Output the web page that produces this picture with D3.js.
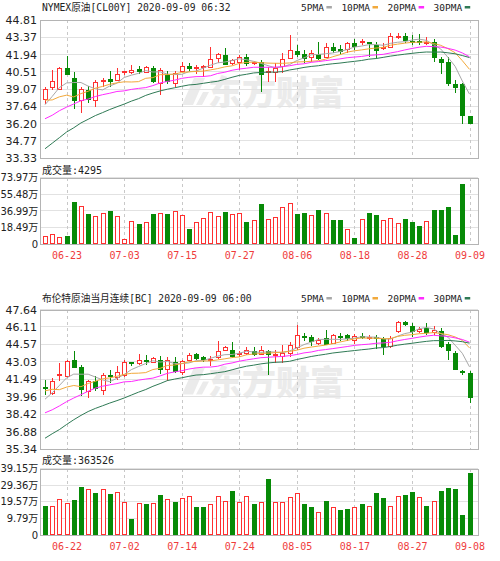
<!DOCTYPE html>
<html><head><meta charset="utf-8">
<script src="https://cdn.jsdelivr.net/npm/d3@7"></script>
<style>body{margin:0;background:#fff}svg{display:block}</style>
</head><body>
<svg id="c" width="500" height="561"></svg>
<script>
// ---------------- DATA: NYMEX crude (CL00Y) ----------------
const nymexDates = ["06-18","06-19","06-22","06-23","06-24","06-25","06-26","06-29","06-30","07-01","07-02","07-03","07-06","07-07","07-08","07-09","07-10","07-13","07-14","07-15","07-16","07-17","07-20","07-21","07-22","07-23","07-24","07-27","07-28","07-29","07-30","07-31","08-03","08-04","08-05","08-06","08-07","08-10","08-11","08-12","08-13","08-14","08-17","08-18","08-19","08-20","08-21","08-24","08-25","08-26","08-27","08-28","08-31","09-01","09-02","09-03","09-04","09-07","09-08","09-09"];
const nymexOpen  = [38.2,39.2,39.1,40.8,40.0,38.15,38.98,38.15,39.75,39.9,39.8,40.5,40.45,40.7,40.5,40.85,39.6,40.2,39.6,40.6,41.0,40.85,40.9,40.93,41.62,41.9,41.2,41.35,41.7,41.2,41.34,40.5,40.5,41.0,41.62,42.25,42.0,41.7,42.0,41.7,42.55,42.4,42.37,42.9,42.95,42.95,42.73,42.55,42.54,43.45,43.45,43.1,43.05,42.95,43.0,41.6,41.35,39.5,39.5,36.8];
const nymexHigh  = [39.2,40.65,40.9,41.8,40.5,39.2,39.3,39.8,40.0,40.6,40.8,40.6,41.07,40.95,41.0,41.0,40.8,40.6,40.6,41.35,41.25,41.1,41.1,42.54,42.1,42.45,41.54,41.9,42.0,41.4,41.48,40.93,41.2,42.1,43.56,42.73,42.31,42.31,43.0,42.87,42.92,42.73,43.0,43.2,43.2,43.0,43.0,42.87,43.7,43.76,43.7,43.56,43.65,43.42,43.2,41.76,41.76,39.82,39.6,36.85];
const nymexLow   = [37.8,39.0,39.0,40.2,37.4,37.1,37.87,37.54,39.2,39.2,39.7,40.2,40.3,40.3,40.43,39.55,38.57,39.5,39.2,40.5,40.6,40.3,40.05,40.87,41.2,41.07,41.07,40.65,40.95,41.1,38.85,39.68,39.68,40.43,41.54,41.76,41.2,41.34,41.48,41.62,42.04,41.9,42.04,42.31,42.73,41.76,41.62,42.31,42.45,43.2,42.92,42.73,42.73,42.73,41.34,40.32,39.32,38.76,36.15,36.15];
const nymexClose = [39.1,39.7,40.8,40.3,38.15,39.1,38.2,39.68,39.85,39.75,40.3,40.55,40.65,40.6,40.9,39.7,40.65,39.7,40.4,41.0,40.8,40.9,40.95,41.6,41.98,41.15,41.5,41.7,41.2,41.3,40.32,40.55,40.8,41.54,42.31,42.0,41.65,42.1,41.65,42.6,42.35,42.25,42.92,42.65,43.05,42.9,42.31,42.6,43.48,43.5,43.15,43.0,42.95,43.0,41.7,41.35,39.54,39.2,36.9,36.25];
// closes before the first visible day (feed the moving averages)
const nymexPrevClose = [25.9,26.9,26.2,27.6,27.0,29.1,30.4,32.5,31.96,33.49,33.92,33.25,34.35,32.81,33.71,35.49,35.44,36.81,37.29,37.41,39.55,38.19,38.94,39.60,36.34,36.26,37.12,38.38,37.96];
// volume, in 万
const nymexVolume = [8.8,11.7,8.1,8.8,46.5,42.5,33.0,30.8,34.4,37.4,30.8,6.2,25.6,22.0,24.5,33.0,34.8,33.0,37.4,31.9,17.2,24.5,29.3,36.3,30.8,36.3,33.0,35.2,24.5,26.4,44.7,27.5,30.0,41.0,45.8,33.0,34.8,31.9,38.1,34.8,26.4,26.4,17.2,7.3,27.5,34.8,31.9,26.4,29.3,23.4,28.2,24.5,20.1,25.6,38.1,38.1,41.0,10.6,66.6,0.4295];
const nymexPriceTicks = [33.33,34.77,36.20,37.64,39.07,40.51,41.94,43.37,44.81];
const nymexVolTicks = [0,18.49,36.99,55.48,73.97];
const nymexDateLabels = ["06-23","07-03","07-15","07-27","08-06","08-18","08-28","09-09"];
const nymexTitle = "NYMEX原油[CL00Y] 2020-09-09 06:32";
const nymexVolTitle = "成交量:4295";

// ---------------- DATA: Brent (BC) ----------------
const brentDates = ["06-17","06-18","06-19","06-22","06-23","06-24","06-25","06-26","06-29","06-30","07-01","07-02","07-03","07-06","07-07","07-08","07-09","07-10","07-13","07-14","07-15","07-16","07-17","07-20","07-21","07-22","07-23","07-24","07-27","07-28","07-29","07-30","07-31","08-03","08-04","08-05","08-06","08-07","08-10","08-11","08-12","08-13","08-14","08-17","08-18","08-19","08-20","08-21","08-24","08-25","08-26","08-27","08-28","08-31","09-01","09-02","09-03","09-04","09-07","09-08"];
const brentOpen  = [40.8,40.28,41.84,41.75,43.2,42.6,40.48,41.37,40.57,41.9,41.66,41.9,42.97,42.93,43.15,43.02,43.22,42.43,43.0,42.13,43.22,43.7,43.45,43.2,43.43,44.11,44.1,43.78,43.8,44.0,43.72,44.0,43.72,43.52,43.81,44.31,45.3,45.2,44.7,45.14,44.7,45.3,45.35,44.99,45.3,45.2,45.18,45.08,44.4,45.73,46.5,46.17,45.75,46.0,45.67,45.73,44.6,43.81,42.2,42.0];
const brentHigh  = [41.45,41.6,42.93,43.22,43.96,42.78,41.46,41.75,42.04,42.34,42.63,43.22,43.02,43.72,43.6,43.43,43.52,43.43,43.43,43.22,43.81,43.81,43.52,43.52,44.9,44.4,44.78,44.02,44.31,44.31,44.4,44.11,44.11,44.49,44.78,46.31,45.58,45.43,45.14,45.87,45.49,45.58,45.49,45.49,45.58,45.43,45.43,45.2,45.29,46.6,46.67,46.46,46.08,46.46,46.17,46.02,44.78,43.96,42.34,42.19];
const brentLow   = [40.13,40.13,41.37,41.6,42.48,39.98,39.84,40.43,40.13,41.15,41.46,41.66,42.63,42.78,42.78,42.93,41.96,41.37,42.04,41.9,43.08,43.22,43.02,42.63,43.31,43.96,43.37,43.43,43.66,43.52,43.6,41.9,42.93,42.93,43.43,44.11,44.9,44.4,44.55,44.55,44.61,44.9,44.9,44.61,45.0,44.99,44.2,43.66,44.25,45.58,46.17,45.2,45.58,45.43,45.43,44.25,43.22,42.34,41.84,39.4];
const brentClose = [40.7,41.37,41.96,43.08,42.6,40.66,41.37,40.72,41.84,41.8,42.13,43.02,42.9,43.22,43.1,43.37,42.43,43.22,42.25,43.08,43.66,43.4,43.3,43.25,44.02,44.31,43.5,43.84,44.1,43.75,44.1,43.75,43.75,43.81,44.55,45.37,45.25,44.84,44.99,44.61,45.37,45.2,45.1,45.28,45.25,45.25,45.12,44.4,45.14,46.52,46.4,45.73,45.95,45.67,45.87,44.4,44.1,42.43,42.1,39.9];
const brentPrevClose = [29.46,30.97,29.63,29.98,29.19,31.13,32.50,34.81,34.65,35.75,36.06,35.13,35.53,36.17,34.74,35.29,35.33,38.32,39.57,39.79,39.99,42.30,40.80,41.18,41.73,38.55,38.73,39.72,40.96];
const brentVolume = [17.2,17.2,21.1,18.6,20.6,28.0,26.8,24.9,26.8,24.1,25.3,19.6,9.4,18.6,18.0,18.6,23.5,21.3,19.6,21.7,22.9,16.6,16.2,18.0,22.9,20.2,25.8,19.2,22.9,18.0,19.6,32.7,19.6,19.6,22.1,24.5,18.0,16.6,13.3,20.2,16.2,14.7,15.1,16.2,18.0,17.2,24.9,21.9,17.2,22.9,23.5,25.4,22.1,17.2,20.2,25.8,27.4,27.0,11.7,36.3526];
const brentPriceTicks = [35.34,36.88,38.42,39.96,41.49,43.03,44.57,46.11,47.64];
const brentVolTicks = [0,9.79,19.57,29.36,39.15];
const brentDateLabels = ["06-22","07-02","07-14","07-24","08-05","08-17","08-27","09-08"];
const brentTitle = "布伦特原油当月连续[BC] 2020-09-09 06:00";
const brentVolTitle = "成交量:363526";

const maPeriods = [5,10,20,30];
const maNames = ["5PMA","10PMA","20PMA","30PMA"];
const maColors = ["#a8a8a8","#f2a93b","#ff2bff","#2f7a55"];

// ---------------- DRAW ----------------
const RED = "#ff3030", GREEN = "#078a07";
const MONO = "'DejaVu Sans Mono','Noto Sans CJK SC',monospace";
const svg = d3.select("#c");
const X0 = 40, X1 = 478;

function movingAvg(prev, closes, n) {
  const all = prev.concat(closes), off = prev.length;
  return closes.map((c, i) => d3.mean(all.slice(off + i - n + 1, off + i + 1)));
}

function drawPanel(p, L) {
  const g = svg.append("g");
  const x = d3.scalePoint().domain(p.dates).range([45, 469.5]);
  const y = d3.scaleLinear().domain(d3.extent(p.priceTicks)).range([L.pBot, L.pTop]);
  const vy = d3.scaleLinear().domain(d3.extent(p.volTicks)).range([L.vBot, L.vTop]);

  // watermark
  const wy = L.pTop + 85;
  g.append("path").attr("d", `M182,${wy} L194,${wy-27} L205,${wy-27} L193,${wy} Z M196,${wy} L203,${wy-13} L209,${wy-13} L202,${wy} Z`).attr("fill", "#ebebeb");
  g.append("text").attr("x", 208).attr("y", wy).attr("font-family", "'Noto Sans CJK SC'").attr("font-weight", "900")
    .attr("font-size", 34).attr("fill", "#ebebeb").text("东方财富");

  // grids
  const grid = g.append("g").attr("shape-rendering", "crispEdges");
  p.priceTicks.forEach(t => grid.append("line").attr("x1", X0).attr("x2", X1).attr("y1", y(t)).attr("y2", y(t)).attr("stroke", "#e2e2e2"));
  p.volTicks.forEach(t => grid.append("line").attr("x1", X0).attr("x2", X1).attr("y1", vy(t)).attr("y2", vy(t)).attr("stroke", "#e2e2e2"));
  p.dateLabels.forEach(d => {
    const xx = Math.round(x(d)) + 0.5;
    grid.append("line").attr("x1", xx).attr("x2", xx).attr("y1", L.pTop).attr("y2", L.pBot).attr("stroke", "#c8c8c8").attr("stroke-dasharray", "3,3");
    grid.append("line").attr("x1", xx).attr("x2", xx).attr("y1", L.vTop).attr("y2", L.vBot).attr("stroke", "#c8c8c8").attr("stroke-dasharray", "3,3");
  });
  // frames
  [[L.pTop, L.pBot], [L.vTop, L.vBot]].forEach(([a, b]) => {
    grid.append("rect").attr("x", X0 + 0.5).attr("y", Math.round(a) + 0.5).attr("width", X1 - X0).attr("height", Math.round(b) - Math.round(a))
      .attr("fill", "none").attr("stroke", "#b4b4b4");
  });

  // axis labels
  const axY = d3.axisLeft(y).tickValues(p.priceTicks).tickSize(0).tickPadding(3).tickFormat(d3.format(".2f"));
  g.append("g").attr("transform", `translate(${X0},0)`).call(axY).call(s => {
    s.select(".domain").remove();
    s.selectAll("text").attr("font-family", "'DejaVu Sans'").attr("font-size", 11).attr("fill", "#222");
  });
  const axV = d3.axisLeft(vy).tickValues(p.volTicks).tickSize(0).tickPadding(2).tickFormat(d => d === 0 ? "0" : d3.format(".2f")(d) + "万");
  g.append("g").attr("transform", `translate(${X0},0)`).call(axV).call(s => {
    s.select(".domain").remove();
    s.selectAll("text").attr("font-family", "'DejaVu Sans','Noto Sans CJK SC'").attr("font-size", 10).attr("letter-spacing", "-0.2").attr("fill", "#222");
  });
  const axX = d3.axisBottom(x).tickValues(p.dateLabels).tickSize(0).tickPadding(0);
  g.append("g").attr("transform", `translate(0,${L.dateY})`).call(axX).call(s => {
    s.select(".domain").remove();
    s.selectAll("text").attr("font-family", MONO).attr("font-size", 10).attr("fill", "#ef3b3b").attr("dy", "0");
  });

  const data = p.dates.map((d, i) => ({ d, o: p.open[i], h: p.high[i], l: p.low[i], c: p.close[i], v: p.volume[i] }));

  // volume bars
  const vb = g.append("g").attr("shape-rendering", "crispEdges");
  vb.selectAll("rect").data(data).join("rect")
    .attr("x", d => Math.round(x(d.d)) - 2 + 0.5)
    .attr("width", 4)
    .attr("y", d => Math.round(vy(d.v)) + 0.5)
    .attr("height", d => Math.max(0, Math.round(vy(0)) - Math.round(vy(d.v)) - 1))
    .attr("fill", d => d.c >= d.o ? "#fff" : GREEN)
    .attr("stroke", d => d.c >= d.o ? RED : GREEN);

  // candles
  const cg = g.append("g").attr("shape-rendering", "crispEdges");
  cg.selectAll("line").data(data).join("line")
    .attr("x1", d => Math.round(x(d.d)) + 0.5).attr("x2", d => Math.round(x(d.d)) + 0.5)
    .attr("y1", d => y(d.h)).attr("y2", d => y(d.l))
    .attr("stroke", d => d.c >= d.o ? RED : GREEN);
  cg.selectAll("rect").data(data).join("rect")
    .attr("x", d => Math.round(x(d.d)) - 2 + 0.5)
    .attr("width", 4)
    .attr("y", d => Math.round(y(Math.max(d.o, d.c))) + 0.5)
    .attr("height", d => Math.max(1, Math.round(y(Math.min(d.o, d.c))) - Math.round(y(Math.max(d.o, d.c)))))
    .attr("fill", d => d.c >= d.o ? "#fff" : GREEN)
    .attr("stroke", d => d.c >= d.o ? RED : GREEN);

  // moving averages
  const line = d3.line().x((v, i) => x(p.dates[i])).y(v => y(v));
  maPeriods.forEach((n, k) => {
    const vals = movingAvg(p.prevClose, p.close, n);
    g.append("path").attr("d", line(vals)).attr("fill", "none").attr("stroke", maColors[k]).attr("stroke-width", 1);
  });

  // titles
  g.append("text").attr("x", 42).attr("y", L.titleY).attr("font-family", MONO).attr("font-size", 9.7).attr("fill", "#222").text(p.title);
  g.append("text").attr("x", 42).attr("y", L.volTitleY).attr("font-family", MONO).attr("font-size", 10).attr("fill", "#222").text(p.volTitle);

  // legend
  let lx = 301;
  maNames.forEach((nm, k) => {
    const t = g.append("text").attr("x", lx).attr("y", L.titleY).attr("font-family", MONO).attr("font-size", 9.5).attr("fill", "#222").text(nm);
    const w = t.node().getComputedTextLength();
    g.append("rect").attr("x", lx + w + 2.5).attr("y", L.titleY - 4.5).attr("width", 5.5).attr("height", 2.5).attr("fill", maColors[k]);
    lx += w + 8 + 9.5;
  });
}

drawPanel({
  dates: nymexDates, open: nymexOpen, high: nymexHigh, low: nymexLow, close: nymexClose,
  prevClose: nymexPrevClose, volume: nymexVolume, priceTicks: nymexPriceTicks, volTicks: nymexVolTicks,
  dateLabels: nymexDateLabels, title: nymexTitle, volTitle: nymexVolTitle
}, { titleY: 10.5, pTop: 20, pBot: 158, volTitleY: 173.5, vTop: 177.5, vBot: 244.3, dateY: 259 });

drawPanel({
  dates: brentDates, open: brentOpen, high: brentHigh, low: brentLow, close: brentClose,
  prevClose: brentPrevClose, volume: brentVolume, priceTicks: brentPriceTicks, volTicks: brentVolTicks,
  dateLabels: brentDateLabels, title: brentTitle, volTitle: brentVolTitle
}, { titleY: 301.5, pTop: 309.5, pBot: 449, volTitleY: 463.5, vTop: 468.5, vBot: 535, dateY: 550 });
</script>
</body></html>
